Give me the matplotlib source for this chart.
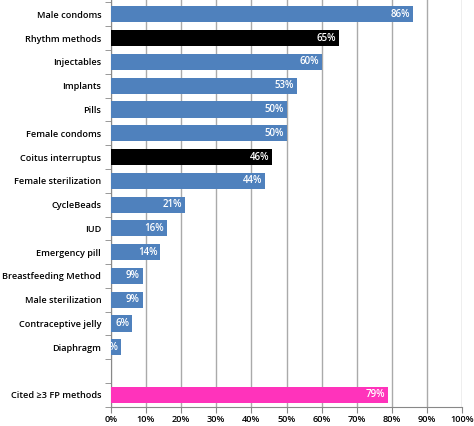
import matplotlib.pyplot as plt

methods = ["Male condoms", "Rhythm methods", "Injectables", "Implants", "Pills",
           "Female condoms", "Coitus interruptus", "Female sterilization",
           "CycleBeads", "IUD", "Emergency pill", "Breastfeeding Method",
           "Male sterilization", "Contraceptive jelly", "Diaphragm", "",
           "Cited \u22653 FP methods"]
values = [86, 65, 60, 53, 50, 50, 46, 44, 21, 16, 14, 9, 9, 6, 3, None, 79]
colors = ["#4f81bd", "black", "#4f81bd", "#4f81bd", "#4f81bd", "#4f81bd", "black",
          "#4f81bd", "#4f81bd", "#4f81bd", "#4f81bd", "#4f81bd", "#4f81bd",
          "#4f81bd", "#4f81bd", None, "#ff33bb"]

plt.rcParams["font.family"] = ["Open Sans", "DejaVu Sans"]

fig = plt.figure(figsize=(4.74, 4.26), dpi=100)
ax = fig.add_axes([0.234, 0.045, 0.741, 0.955])

n = len(methods)
for i, (v, c) in enumerate(zip(values, colors)):
    if v is None:
        continue
    bars = ax.barh(i, v, height=0.68, color=c, zorder=3)
    t = ax.text(v - 0.8, i, f"{v}%", ha="right", va="center", color="white",
                fontsize=7, fontweight="semibold", zorder=4)
    t.set_clip_path(bars[0])

ax.set_ylim(n - 0.5, -0.6)
ax.set_xlim(0, 100)
ax.set_yticks(range(n))
ax.set_yticklabels(methods, fontsize=6.6, fontweight="semibold")
ax.tick_params(axis="y", length=0, pad=7)
ax.set_yticks([i + 0.5 for i in range(-1, n)], minor=True)
ax.tick_params(axis="y", which="minor", length=4, color="#888888")
ax.set_xticks(range(0, 101, 10))
ax.set_xticklabels([f"{x}%" for x in range(0, 101, 10)], fontsize=6.6, fontweight="semibold")
ax.tick_params(axis="x", length=4, color="#888888", pad=2)
ax.grid(axis="x", color="#aaaaaa", linewidth=1, zorder=0)
for s in ["top", "right"]:
    ax.spines[s].set_visible(False)
ax.spines["left"].set_color("#888888")
ax.spines["bottom"].set_color("#888888")

fig.savefig("out.png", dpi=100)
